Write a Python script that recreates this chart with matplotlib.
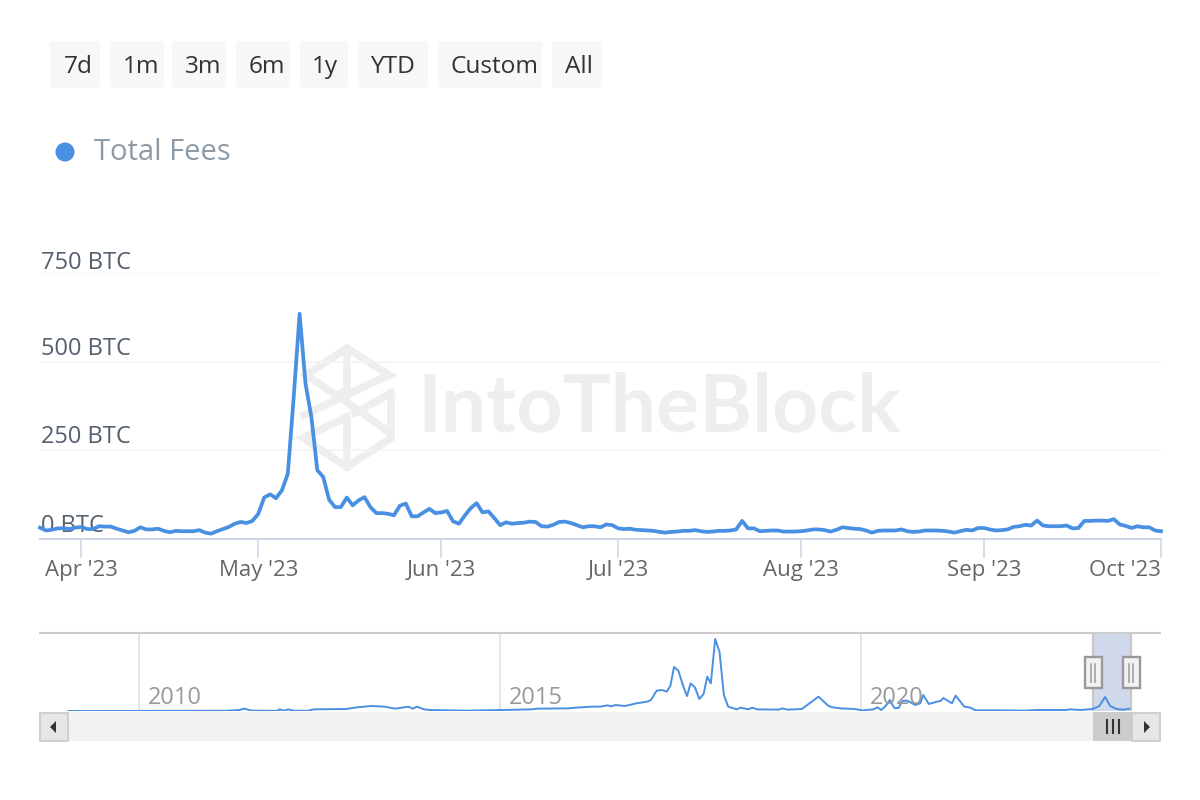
import matplotlib
matplotlib.use("Agg")
import matplotlib.pyplot as plt
import pandas as pd
from matplotlib.patches import FancyBboxPatch, Rectangle, Circle, Polygon

plt.rcParams["font.family"] = ["Open Sans", "DejaVu Sans"]

# Daily fees in the zoomed range, BTC
fees_mar = [32, 24, 26, 30, 30, 28, 32]
fees_apr = [34, 28, 28, 36, 35, 35, 29, 24, 19, 23, 33, 27, 27, 29, 23, 19, 23, 22, 22, 22,
            25, 18, 15, 22, 28, 34, 43, 48, 45, 51]
fees_may = [71, 117, 126, 115, 137, 184, 400, 635, 438, 344, 194, 175, 111, 90, 90, 117, 95,
            109, 118, 90, 73, 73, 71, 67, 94, 100, 64, 64, 75, 85, 73]
fees_jun = [75, 79, 50, 43, 66, 87, 101, 75, 78, 59, 39, 47, 43, 45, 46, 49, 48, 36, 35, 40,
            48, 49, 45, 39, 33, 36, 36, 33, 41, 39]
fees_jul = [30, 28, 29, 26, 25, 24, 23, 20, 18, 20, 21, 23, 23, 25, 22, 20, 21, 23, 23, 24,
            27, 51, 30, 30, 22, 23, 24, 24, 21, 21, 21]
fees_aug = [22, 24, 27, 27, 25, 21, 26, 33, 31, 29, 28, 24, 18, 23, 24, 24, 24, 27, 22, 20,
            21, 24, 24, 24, 23, 21, 18, 22, 26, 24, 31]
fees_sep = [31, 27, 24, 25, 27, 34, 36, 40, 38, 52, 38, 36, 36, 36, 38, 30, 31, 51, 51, 52,
            52, 51, 56, 41, 37, 31, 36, 33, 33, 24]
fees_oct = [22]
fees = fees_mar + fees_apr + fees_may + fees_jun + fees_jul + fees_aug + fees_sep + fees_oct
days = pd.date_range("2023-03-25", periods=len(fees), freq="D")

month_ticks = ["2023-04-01", "2023-05-01", "2023-06-01", "2023-07-01", "2023-08-01",
               "2023-09-01", "2023-10-01"]
month_labels = ["Apr '23", "May '23", "Jun '23", "Jul '23", "Aug '23", "Sep '23", "Oct '23"]
y_ticks = [0, 250, 500, 750]
y_labels = ["0 BTC", "250 BTC", "500 BTC", "750 BTC"]
y_label_lift = [5, 5, 5, 3.2]

# Navigator series over the whole history (decimal years)
nav_years = [2009.02, 2011.21, 2011.39, 2011.46, 2011.56, 2011.91, 2011.95, 2012.00, 2012.07,
             2012.13, 2012.34, 2012.42, 2012.87, 2013.02, 2013.22, 2013.40, 2013.55, 2013.73,
             2013.79, 2013.85, 2013.95, 2014.03, 2014.53, 2015.04, 2015.44, 2015.52, 2015.94,
             2016.05, 2016.27, 2016.39, 2016.49, 2016.54, 2016.60, 2016.73, 2016.89, 2017.04,
             2017.09, 2017.17, 2017.24, 2017.31, 2017.36, 2017.41, 2017.47, 2017.54, 2017.59,
             2017.64, 2017.70, 2017.76, 2017.82, 2017.87, 2017.92, 2017.98, 2018.04, 2018.10,
             2018.16, 2018.28, 2018.33, 2018.44, 2018.49, 2018.56, 2018.86, 2018.91, 2018.98,
             2019.18, 2019.41, 2019.55, 2019.61, 2019.71, 2019.91, 2020.02, 2020.17, 2020.23,
             2020.28, 2020.34, 2020.40, 2020.46, 2020.52, 2020.57, 2020.64, 2020.75, 2020.82,
             2020.86, 2020.94, 2021.05, 2021.10, 2021.14, 2021.26, 2021.31, 2021.43, 2021.50,
             2021.59, 2021.93, 2022.28, 2022.43, 2022.84, 2022.89, 2023.04, 2023.21, 2023.30,
             2023.38, 2023.45, 2023.54, 2023.64, 2023.72]
nav_fees = [0, 5, 20, 47, 7, 3, 33, 7, 33, 7, 3, 33, 40, 73, 100, 87, 47, 87, 47, 87, 33, 20,
            7, 20, 33, 47, 53, 67, 87, 87, 113, 93, 120, 100, 153, 187, 220, 407, 420, 387,
            507, 880, 807, 487, 300, 553, 473, 240, 340, 687, 553, 1440, 1187, 320, 87, 33,
            67, 33, 67, 33, 27, 53, 27, 40, 287, 100, 73, 53, 40, 13, 33, 73, 20, 100, 220,
            60, 60, 200, 207, 120, 153, 320, 140, 187, 200, 260, 153, 307, 87, 73, 13, 13, 7,
            20, 20, 33, 20, 40, 100, 280, 100, 40, 27, 47]
nav_ticks = [2010, 2015, 2020]
selected = (2023.21, 2023.74)

buttons = ["7d", "1m", "3m", "6m", "1y", "YTD", "Custom", "All"]
button_left = [50, 110, 172, 236, 300, 358, 438, 552]
button_right = [100, 164, 226, 290, 348, 428, 542, 602]
button_text_x = [78, 141, 203, 267, 325, 393, 495, 579]

BLUE = "#4a90e2"
W, H = 1200, 800


def px_axes(left, top, right, bottom, **kw):
    return fig.add_axes([left / W, 1 - bottom / H, (right - left) / W, (bottom - top) / H], **kw)


fig = plt.figure(figsize=(12, 8), dpi=100)

# Background layer: buttons, legend, watermark (pixel coordinates)
bg = fig.add_axes([0, 0, 1, 1], zorder=0)
bg.set_xlim(0, W)
bg.set_ylim(H, 0)
bg.axis("off")

for name, x0, x1, tx in zip(buttons, button_left, button_right, button_text_x):
    bg.add_patch(FancyBboxPatch((x0 + 3, 44), x1 - x0 - 6, 41, boxstyle="round,pad=3",
                                fc="#f7f7f7", ec="none"))
    bg.text(tx, 67, name, fontsize=17.6, color="#333333", ha="center", va="center")

bg.add_patch(Circle((65, 152), 9.5, fc=BLUE, ec="none"))
bg.text(94, 153, "Total Fees", fontsize=21, color="#8d9ba6", va="center")

wm = "#eeeeee"
hex_lines = [
    [(304, 415), (389, 375), (347, 348), (306, 375), (341, 398), (389, 432)],
    [(347, 352), (347, 390), (335, 397)],
    [(391, 393), (355, 413)],
    [(391, 393), (391, 438), (347, 467), (303, 438), (347, 417)],
    [(347, 422), (347, 467)],
]
for pts in hex_lines:
    bg.plot([p[0] for p in pts], [p[1] for p in pts], color=wm, lw=5.5, solid_joinstyle="miter")
bg.text(418, 408, "IntoTheBlock", fontsize=58, fontweight="bold", color=wm, va="center",
        family=["Lato", "DejaVu Sans"])

# Main chart
ax = px_axes(40, 273, 1161, 539, zorder=2)
ax.patch.set_alpha(0)
ax.plot(days, fees, color=BLUE, lw=2.7, solid_joinstyle="round", clip_on=False, zorder=4)
ax.set_xlim(pd.Timestamp("2023-03-25"), pd.Timestamp("2023-10-01"))
ax.set_ylim(0, 750)
for s in ["top", "left", "right"]:
    ax.spines[s].set_visible(False)
ax.spines["bottom"].set_color("#ccd6eb")
ax.spines["bottom"].set_linewidth(1.4)
ax.set_xticks(pd.to_datetime(month_ticks))
ax.set_xticklabels(month_labels, fontsize=16, color="#666666")
ax.tick_params(axis="x", length=13.5, width=1.1, color="#ccd6eb", pad=1.5)
# last label sits inside the right edge
ax.get_xticklabels()[-1].set_ha("right")
ax.set_yticks(y_ticks)
ax.set_yticklabels([])
ax.tick_params(axis="y", length=0)
ax.grid(axis="y", color="#f3f3f3", lw=1.2)
ax.set_axisbelow(True)
for v, lab, lift in zip(y_ticks, y_labels, y_label_lift):
    ax.annotate(lab, (0, v), xycoords=("axes fraction", "data"), xytext=(0.5, lift),
                textcoords="offset points", fontsize=17, color="#55606f", va="baseline", zorder=3)

# Navigator
nav = px_axes(40, 633, 1160, 711, zorder=1)
nav.patch.set_alpha(0)
nav.set_xlim(2008.63, 2024.14)
nav.set_ylim(0, 1560)
nav.axvspan(selected[0], selected[1], color="#d0d8ec", lw=0, zorder=1)
for x in selected:
    nav.axvline(x, color="#c8c8c8", lw=1.6, zorder=2)
nav.plot(nav_years, nav_fees, color=BLUE, lw=1.4, zorder=3)
nav.set_xticks(nav_ticks)
nav.set_xticklabels([])
nav.set_yticks([])
nav.tick_params(axis="x", length=0)
nav.grid(axis="x", color="#e6e6e6", lw=1.4)
nav.set_axisbelow(True)
for s in ["left", "right", "bottom"]:
    nav.spines[s].set_visible(False)
nav.spines["top"].set_color("#cccccc")
nav.spines["top"].set_linewidth(1.5)
for yr in nav_ticks:
    nav.annotate(str(yr), (yr, 0), xytext=(6.5, 0.5), textcoords="offset points", fontsize=17,
                 color="#999999", va="bottom")

# Scrollbar and handles on top (pixel coordinates)
top = fig.add_axes([0, 0, 1, 1], zorder=3)
top.patch.set_alpha(0)
top.set_xlim(0, W)
top.set_ylim(H, 0)
top.axis("off")
top.add_patch(Rectangle((39, 712), 1121, 29, fc="#f2f2f2", ec="none"))
top.add_patch(Rectangle((39.5, 712.5), 28, 28, fc="#e6e6e6", ec="#cccccc", lw=1.3))
top.add_patch(Rectangle((1132, 712.5), 27.5, 28, fc="#e6e6e6", ec="#cccccc", lw=1.3))
top.add_patch(Rectangle((1093, 712), 39, 29, fc="#cccccc", ec="none"))
top.add_patch(Polygon([(56, 721), (56, 733), (50, 727)], fc="#333333", ec="none"))
top.add_patch(Polygon([(1144, 721), (1144, 733), (1150, 727)], fc="#333333", ec="none"))
for x in [1107, 1113, 1119]:
    top.plot([x, x], [720, 733], color="#333333", lw=1.5)
for x in [1093, 1131]:
    top.add_patch(Rectangle((x - 8.5, 657), 17, 31, fc="#f2f2f2", ec="#999999", lw=1.7))
    top.plot([x - 2, x - 2], [664, 682], color="#999999", lw=1.1)
    top.plot([x + 2, x + 2], [664, 682], color="#999999", lw=1.1)

fig.savefig("out.png", dpi=100)
